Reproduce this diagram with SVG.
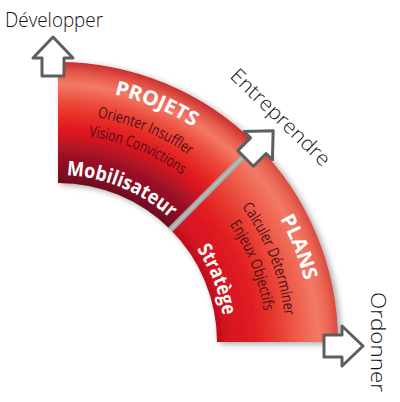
<svg xmlns="http://www.w3.org/2000/svg" width="400" height="402" viewBox="0 0 400 402">
  <defs>
    <radialGradient id="gLeft" gradientUnits="userSpaceOnUse" cx="58" cy="342" r="280">
      <stop offset="0.568" stop-color="#6e0a1e"/>
      <stop offset="0.62" stop-color="#8a0e24"/>
      <stop offset="0.68" stop-color="#a41228"/>
      <stop offset="0.75" stop-color="#dc1620"/>
      <stop offset="0.80" stop-color="#e62a26"/>
      <stop offset="0.86" stop-color="#ec4c3c"/>
      <stop offset="0.92" stop-color="#f27a66"/>
      <stop offset="0.96" stop-color="#e85a4c"/>
      <stop offset="1" stop-color="#c8302e"/>
    </radialGradient>
    <radialGradient id="gRight" gradientUnits="userSpaceOnUse" cx="58" cy="342" r="280">
      <stop offset="0.568" stop-color="#c0101c"/>
      <stop offset="0.62" stop-color="#d81420"/>
      <stop offset="0.70" stop-color="#e01c20"/>
      <stop offset="0.78" stop-color="#e63a30"/>
      <stop offset="0.86" stop-color="#ee5e4c"/>
      <stop offset="0.93" stop-color="#f27a66"/>
      <stop offset="0.97" stop-color="#ea6452"/>
      <stop offset="1" stop-color="#d84a40"/>
    </radialGradient>
    <filter id="sh" x="-10%" y="-10%" width="130%" height="130%">
      <feGaussianBlur in="SourceAlpha" stdDeviation="3"/>
      <feOffset dx="3" dy="2"/>
      <feComponentTransfer><feFuncA type="linear" slope="0.35"/></feComponentTransfer>
      <feMerge><feMergeNode/><feMergeNode in="SourceGraphic"/></feMerge>
    </filter>
    <path id="arrowShape" d="M0,-20 L20,1 L11,1 L11,19 L-11,19 L-11,1 L-20,1 Z"/>
    <path id="pL254" d="M-18.38,99.76 A254,254 0 0 1 283.30,224.72"/>
    <path id="pL228" d="M-10.56,124.55 A228,228 0 0 1 260.24,236.72"/>
    <path id="pL208" d="M-4.55,143.63 A208,208 0 0 1 242.50,245.96"/>
    <path id="pL167" d="M7.78,182.73 A167,167 0 0 1 206.13,264.89"/>
    <path id="pR254" d="M179.20,118.78 A254,254 0 0 1 298.87,422.59"/>
    <path id="pR228" d="M166.79,141.63 A228,228 0 0 1 274.22,414.34"/>
    <path id="pR208" d="M157.25,159.21 A208,208 0 0 1 255.25,408.00"/>
    <path id="pR167" d="M137.69,195.24 A167,167 0 0 1 216.37,394.99"/>
  </defs>
  <style>
    .title { font-family: "Open Sans", "Liberation Sans", sans-serif; font-weight: 700; font-size: 20px; fill: #ffffff; }
    .sub { font-family: "Open Sans", "Liberation Sans", sans-serif; font-weight: 400; font-size: 15.5px; fill: #4c1216; }
    .hand { font-family: "Open Sans", "DejaVu Sans", sans-serif; font-weight: 300; font-size: 20px; fill: #111111; }
    .arrow { fill: #ffffff; stroke: #5e5e5e; stroke-width: 3; stroke-linejoin: round; }
  </style>

  <g id="ring" filter="url(#sh)">
    <g id="projets">
      <path d="M58,62 A280,280 0 0 1 256,144 L170.4,229.6 A159,159 0 0 0 58,183 Z" fill="url(#gLeft)"/>
    </g>
    <g id="plans">
      <path d="M256,144 A280,280 0 0 1 338,342 L217,342 A159,159 0 0 0 170.4,229.6 Z" fill="url(#gRight)"/>
    </g>
  </g>

  <g id="connectors">
    <line x1="170.4" y1="229.6" x2="250" y2="150" stroke="#a6a6a6" stroke-width="6"/>
    <line x1="170.4" y1="229.6" x2="250" y2="150" stroke="#bdbdbd" stroke-width="2"/>
  </g>

  <g id="projets-labels">
    <text class="title"><textPath href="#pL254" startOffset="50%" text-anchor="middle" textLength="86" lengthAdjust="spacingAndGlyphs">PROJETS</textPath></text>
    <text class="sub"><textPath href="#pL228" startOffset="50%" text-anchor="middle" textLength="100" lengthAdjust="spacingAndGlyphs">Orienter Insuffler</textPath></text>
    <text class="sub"><textPath href="#pL208" startOffset="50%" text-anchor="middle" textLength="102" lengthAdjust="spacingAndGlyphs">Vision Convictions</textPath></text>
    <text class="title"><textPath href="#pL167" startOffset="50%" text-anchor="middle" textLength="114" lengthAdjust="spacingAndGlyphs">Mobilisateur</textPath></text>
  </g>

  <g id="plans-labels">
    <text class="title"><textPath href="#pR254" startOffset="50%" text-anchor="middle" textLength="67" lengthAdjust="spacingAndGlyphs">PLANS</textPath></text>
    <text class="sub"><textPath href="#pR228" startOffset="50%" text-anchor="middle" textLength="118" lengthAdjust="spacingAndGlyphs">Calculer Déterminer</textPath></text>
    <text class="sub"><textPath href="#pR208" startOffset="50%" text-anchor="middle" textLength="94" lengthAdjust="spacingAndGlyphs">Enjeux Objectifs</textPath></text>
    <text class="title"><textPath href="#pR167" startOffset="50%" text-anchor="middle" textLength="72" lengthAdjust="spacingAndGlyphs">Stratège</textPath></text>
  </g>

  <g id="developper">
    <use href="#arrowShape" class="arrow" transform="translate(53,57)"/>
    <text class="hand" x="5" y="27" textLength="98" lengthAdjust="spacingAndGlyphs">Développer</text>
  </g>

  <g id="entreprendre">
    <use href="#arrowShape" class="arrow" transform="translate(259,145) rotate(45)"/>
    <text class="hand" transform="translate(229,77) rotate(44)" textLength="130" lengthAdjust="spacingAndGlyphs">Entreprendre</text>
  </g>

  <g id="ordonner">
    <use href="#arrowShape" class="arrow" transform="translate(343,346) rotate(90)"/>
    <text class="hand" transform="translate(371,292) rotate(90)" textLength="100" lengthAdjust="spacingAndGlyphs">Ordonner</text>
  </g>
</svg>
